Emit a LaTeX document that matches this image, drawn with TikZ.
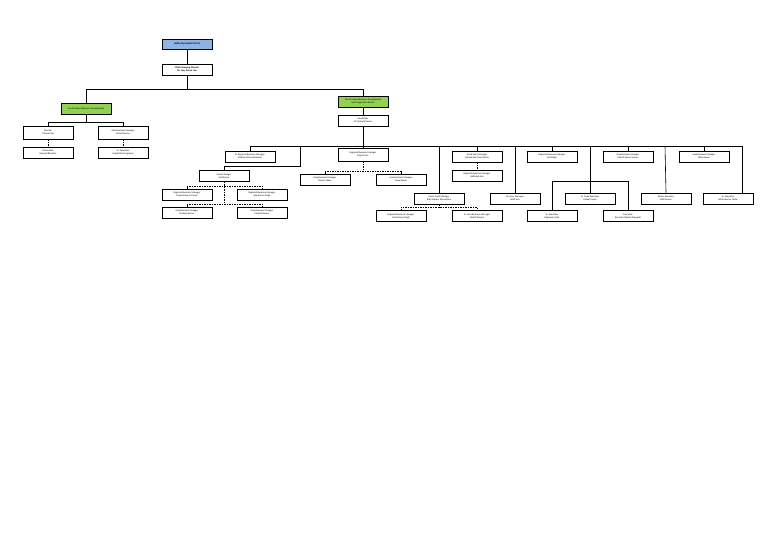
\documentclass[tikz,border=0pt]{standalone}
\usepackage{fontspec}
\setmainfont{Carlito}
\begin{document}
\begin{tikzpicture}[x=1pt,y=-1pt,
 bx/.style={draw,line width=0.6pt,fill=white,minimum width=50pt,minimum height=11pt,inner sep=0.5pt,align=center,font=\fontsize{2.4}{2.9}\selectfont},
 gbx/.style={bx,fill=green!60!lime!70!black!80,fill=lime!60!green!70},
 ln/.style={line width=0.6pt},
 dl/.style={line width=0.8pt,dashed,dash pattern=on 1.5pt off 1pt}]
\useasboundingbox (0,0) rectangle (768,543);
\node[bx,fill=blue!25!cyan!30!white,fill={rgb,255:red,141;green,180;blue,226},minimum height=10pt,font=\fontsize{2.6}{3}\selectfont\bfseries] (top) at (187,44) {Indian Dynamite Pvt Ltd};
\node[bx,font=\fontsize{2.4}{2.9}\selectfont\bfseries] (cmd) at (187,69.5) {Chief Managing Director\\Mr. Ajay Kumar Jain};
\node[gbx,fill={rgb,255:red,146;green,208;blue,80}] (vpl) at (86,109) {Vice President Business Development};
\node[gbx,fill={rgb,255:red,146;green,208;blue,80}] (vpr) at (363,101.5) {Vice President Business Development\\Sunil Nagar Ram Kumar};
\node[bx] (hs) at (363,120.5) {Head Sales\\Mr Mahesh Kumar};
\node[bx,minimum height=13pt] (l1) at (48,132.5) {Director\\T Kumar Das};
\node[bx,minimum height=13pt] (l2) at (123,132.5) {Joint Business Manager\\Kunal Sharma};
\node[bx] (l3) at (48,152.5) {Jt Executive\\Ramesh Bhushan};
\node[bx] (l4) at (123,152.5) {Sr. Executive\\Anjali Ghosh Agrawal};
\node[bx] (a) at (250,156.5) {Sr. Regional Business Manager\\Malhotra Ramesh Kumar};
\node[bx,minimum height=13pt] (b) at (363,154.5) {Regional Business Manager\\Rajesh Jain};
\node[bx] (c) at (477,156.5) {Zonal Sales Manager\\Sukhwinder Ram Mehta};
\node[bx] (d) at (552,156.5) {Regional Business Manager\\Anil Singh};
\node[bx] (e) at (628,156.5) {Area Business Manager\\Manish Kumar Verma};
\node[bx] (f) at (704,156.5) {Area Business Manager\\Vikas Kumar};
\node[bx] (zm) at (224,176) {Zonal Manager\\Anil Kumar};
\node[bx] (c2) at (477,175.5) {Regional Business Manager\\Abhishek Jain};
\node[bx] (b1) at (325,179.5) {Area Business Manager\\Satyam Yadav};
\node[bx] (b2) at (401,179.5) {Area Business Manager\\Vinay Kumar};
\node[bx] (z1) at (187,194.5) {Regional Business Manager\\Deepak Kumar Tiwari};
\node[bx] (z2) at (262,194.5) {Regional Business Manager\\Ajay Kumar Singh};
\node[bx] (z3) at (187,212.5) {Area Business Manager\\Pradeep Kumar};
\node[bx] (z4) at (262,212.5) {Area Business Manager\\Santosh Kumar};
\node[bx] (zt) at (439,198.5) {Zonal Trade Manager\\Ravi Shankar Shrivastava};
\node[bx] (t1) at (401,216) {Regional Business Manager\\Amit Kumar Singh};
\node[bx] (t2) at (477,216) {Sr. Area Business Manager\\Mohit Sharma};
\node[bx] (tm) at (515,198.5) {Territory Manager\\Rohit Jain};
\node[bx] (ste) at (590,198.5) {Sr. Trade Executive\\Pankaj Gupta};
\node[bx] (g) at (552,216) {Sr. Executive\\Rajkumar Joshi};
\node[bx] (h) at (628,216) {Executive\\Ramesh Chandra Prajapati};
\node[bx] (se) at (666,198.5) {Senior Executive\\Nitin Kumar};
\node[bx] (sx) at (728,198.5) {Sr. Executive\\Ashish Kumar Yadav};
% solid connectors
\draw[ln] (top) -- (cmd);
\draw[ln] (cmd) -- (187,89) coordinate (j0);
\draw[ln] (vpl.north) -- (86,89) -- (363,89) -- (vpr.north);
\draw[ln] (vpr) -- (hs);
\draw[ln] (vpl.south) -- (86,122) coordinate (j1);
\draw[ln] (l1.north) -- (48,122) -- (123,122) -- (l2.north);
\draw[ln] (hs.south) -- (363,146) coordinate (j2);
\draw[ln] (a.north) -- (250,146) -- (742,146) -- (742,193);
\draw[ln] (b) -- (363,146);
\draw[ln] (c.north) -- (477,146);
\draw[ln] (d.north) -- (552,146);
\draw[ln] (e.north) -- (628,146);
\draw[ln] (f.north) -- (704,146);
\draw[ln] (300,146) -- (300,166) -- (224,166) -- (zm.north);
\draw[ln] (439,146) -- (zt.north);
\draw[ln] (515,146) -- (tm.north);
\draw[ln] (590,146) -- (ste.north);
\draw[ln] (g.north) -- (552,181) -- (628,181) -- (h.north);
\draw[ln] (665,146) -- (se.north);
% dashed connectors
\draw[dl] (l1) -- (l3);
\draw[dl] (l2) -- (l4);
\draw[dl] (c) -- (c2);
\draw[dl] (b.south) -- (363,171) coordinate (j3);
\draw[dl] (b1.north) -- (325,171) -- (401,171) -- (b2.north);
\draw[dl] (zm.south) -- (224,204);
\draw[dl] (z1.north) -- (187,186) -- (262,186) -- (z2.north);
\draw[dl] (z3.north) -- (187,204) -- (262,204) -- (z4.north);
\draw[dl] (zt.south) -- (439,207);
\draw[dl] (t1.north) -- (401,207) -- (477,207) -- (t2.north);
\end{tikzpicture}
\end{document}
